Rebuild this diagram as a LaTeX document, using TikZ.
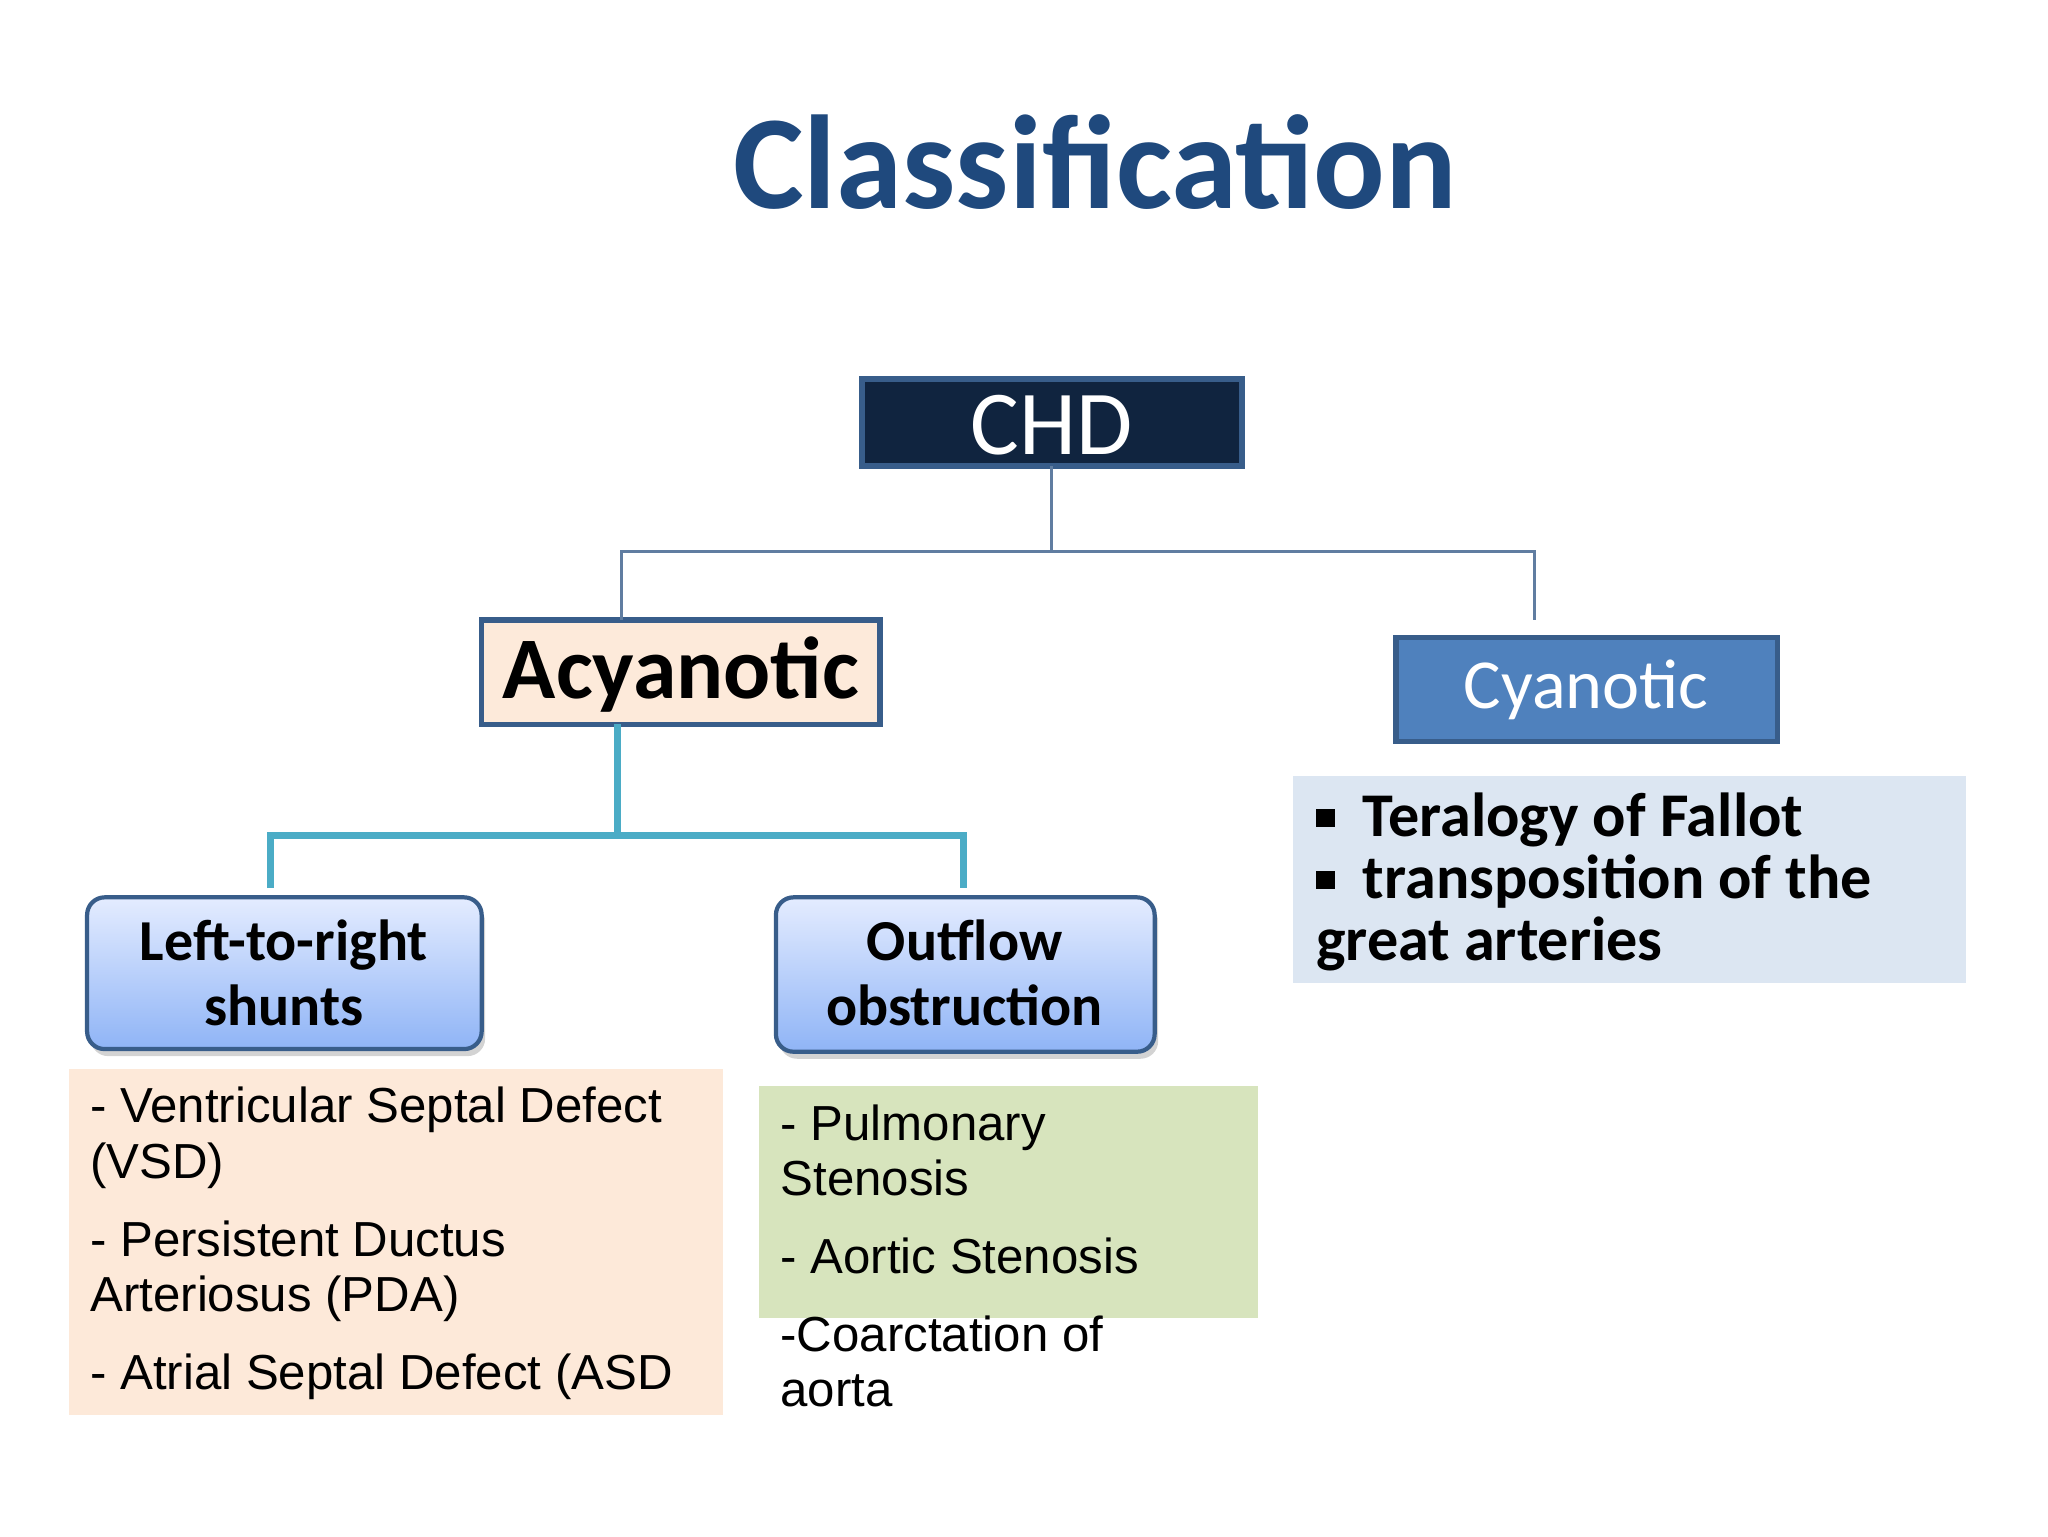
\documentclass[tikz,border=0pt]{standalone}
\usepackage{fontspec}
\setmainfont{Carlito}
\newfontfamily\arialf{Liberation Sans}
\usetikzlibrary{shadows}
\definecolor{titleblue}{HTML}{1F497D}
\definecolor{navy}{HTML}{10243F}
\definecolor{bordr}{HTML}{385D8A}
\definecolor{peach}{HTML}{FDEADA}
\definecolor{cyanblue}{HTML}{4F81BD}
\definecolor{lightblue}{HTML}{DCE6F2}
\definecolor{teal}{HTML}{4BACC6}
\definecolor{lpeach}{HTML}{FDE9D9}
\definecolor{lgreen}{HTML}{D7E4BD}
\definecolor{gtop}{HTML}{E4ECFF}
\definecolor{gbot}{HTML}{8FB4F6}
\tikzset{
 box/.style={draw=bordr,line width=1.6pt},
 grad/.style={draw=bordr,line width=1.2pt,rounded corners=5pt,top color=gtop,bottom color=gbot,drop shadow={opacity=0.35,shadow xshift=1pt,shadow yshift=-2pt}},
 thin/.style={draw=bordr!80,line width=0.8pt},
 tl/.style={draw=teal,line width=2pt},
 lt/.style={anchor=base west,inner sep=0pt,font=\arialf\fontsize{14}{16}\selectfont},
 bt/.style={anchor=base west,inner sep=0pt,font=\bfseries\fontsize{17.7}{20}\selectfont},
}
\begin{document}
\begin{tikzpicture}[x=0.013196cm,y=-0.013196cm]
\useasboundingbox (0,0) rectangle (1552,1164);
\node[font=\bfseries\fontsize{38}{40}\selectfont,text=titleblue,anchor=base] (title) at (830,158) {Classification};
% CHD
\draw[box,fill=navy] (653,287) rectangle (941,353);
\node[font=\fontsize{26}{28}\selectfont,text=white] (chd) at (797,322) {CHD};
\coordinate (chdb) at (797,353);
% Acyanotic
\draw[box,fill=peach] (365,470) rectangle (667,549);
\node[font=\bfseries\fontsize{25}{27}\selectfont] (acy) at (516,511) {Acyanotic};
\coordinate (acyt) at (471,470);
\coordinate (acyb) at (468,549);
% Cyanotic
\draw[box,fill=cyanblue] (1058,483) rectangle (1347,562);
\node[font=\fontsize{20}{22}\selectfont,text=white] (cya) at (1202,523) {Cyanotic};
\coordinate (cyat) at (1163,470);
% connectors
\draw[thin] (chdb) -- (797,418) -| (acyt);
\draw[thin] (797,418) -| (cyat);
% cyanotic list
\fill[lightblue] (980,588) rectangle (1490,745);
\node[bt] (c1) at (997,634) {\raisebox{0.15em}{\rule{0.3em}{0.3em}}\hspace{0.45em}Teralogy of Fallot};
\node[bt] (c2) at (997,681) {\raisebox{0.15em}{\rule{0.3em}{0.3em}}\hspace{0.45em}transposition of the};
\node[bt] (c3) at (997,728) {great arteries};
% subboxes
\draw[grad] (66,680) rectangle (365,795);
\node[align=center,font=\bfseries\fontsize{16.5}{18.5}\selectfont] (lr) at (215,737) {Left-to-right\\shunts};
\draw[grad] (588,680) rectangle (875,797);
\node[align=center,font=\bfseries\fontsize{16.5}{18.5}\selectfont] (oo) at (731,737) {Outflow\\obstruction};
\coordinate (lrt) at (205,673);
\coordinate (oot) at (730,673);
\draw[tl] (acyb) -- (468,633);
\draw[tl] (lrt) |- (468,633) -| (oot);
% left list
\fill[lpeach] (52,810) rectangle (548,1072);
\node[lt] (l1) at (68,851) {- Ventricular Septal Defect};
\node[lt] (l2) at (68,893) {(VSD)};
\node[lt] (l3) at (68,952) {- Persistent Ductus};
\node[lt] (l4) at (68,994) {Arteriosus (PDA)};
\node[lt] (l5) at (68,1053) {- Atrial Septal Defect (ASD};
% green list
\fill[lgreen] (575,823) rectangle (953,999);
\node[lt] (g1) at (591,864) {- Pulmonary};
\node[lt] (g2) at (591,906) {Stenosis};
\node[lt] (g3) at (591,965) {- Aortic Stenosis};
\node[lt] (g4) at (591,1024) {-Coarctation of};
\node[lt] (g5) at (591,1066) {aorta};
\end{tikzpicture}
\end{document}
